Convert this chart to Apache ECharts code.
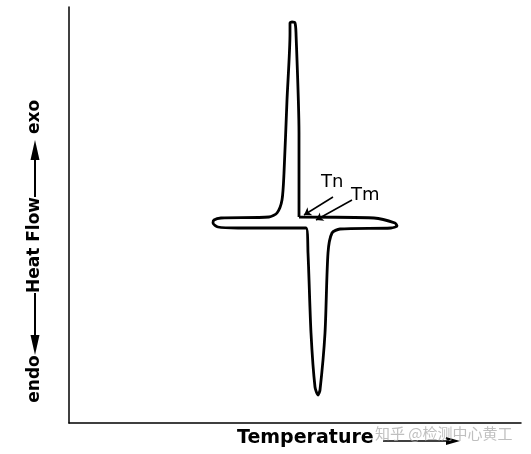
<!DOCTYPE html>
<html>
<head>
<meta charset="utf-8">
<script src="https://cdn.jsdelivr.net/npm/echarts@6/dist/echarts.min.js"></script>
</head>
<body style="margin:0">
<div id="main" style="width:531px;height:454px"></div>
<script>
// DSC loop (x: temperature, y: heat flow, arbitrary units)
var curveX = [299, 299, 296, 295, 292, 290, 290, 287, 284, 282, 277, 269, 221, 214, 213, 218, 238, 306, 308, 311, 315, 318, 320, 325, 328, 332, 340, 391, 397, 395, 374, 299];
var curveY = [217, 133, 33, 23, 22, 23, 33, 100, 173, 200, 213, 217, 218, 220, 223, 227, 228, 228, 253, 333, 387, 395, 390, 333, 253, 233, 229, 228, 226, 223, 218, 217];
var arrowTn = [[333, 197], [304, 215]];
var arrowTm = [[352, 200], [316, 220]];
var labels = [{text: 'Tn', x: 321, y: 182}, {text: 'Tm', x: 351, y: 195}];

var X0 = 69, Y0 = 423;
function px(p) { return [p[0] - X0, Y0 - p[1]]; }
var data = curveX.map(function (x, i) { return px([x, curveY[i]]); });

var chart = echarts.init(document.getElementById('main'));
var bold = {fontFamily: 'DejaVu Sans', fontWeight: 'bold', fontSize: 17, fill: '#000'};
chart.setOption({
    animation: false,
    grid: {left: X0, right: 10, top: 7, bottom: 454 - Y0},
    xAxis: {type: 'value', min: 0, max: 452, axisLine: {show: true, onZero: false, lineStyle: {color: '#000', width: 1.5}},
        axisTick: {show: false}, axisLabel: {show: false}, splitLine: {show: false}},
    yAxis: {type: 'value', min: 0, max: 416, axisLine: {show: true, onZero: false, lineStyle: {color: '#000', width: 1.5}},
        axisTick: {show: false}, axisLabel: {show: false}, splitLine: {show: false}},
    series: [{
        type: 'line', data: data, smooth: 0.25, showSymbol: false,
        lineStyle: {color: '#000', width: 2.8},
        markLine: {
            silent: true, symbol: ['none', 'arrow'], symbolSize: 7,
            lineStyle: {color: '#000', width: 1.5, type: 'solid'}, label: {show: false},
            data: [
                [{coord: px(arrowTn[0])}, {coord: px(arrowTn[1])}],
                [{coord: px(arrowTm[0])}, {coord: px(arrowTm[1])}]
            ]
        }
    }],
    graphic: labels.map(function (l) {
        return {type: 'text', x: l.x, y: l.y, style: {text: l.text, fontFamily: 'DejaVu Sans', fontSize: 18, fill: '#000', verticalAlign: 'middle'}};
    }).concat([
        {type: 'text', x: 35, y: 117, rotation: Math.PI / 2, style: Object.assign({text: 'exo', align: 'center', verticalAlign: 'middle'}, bold)},
        {type: 'text', x: 35, y: 245, rotation: Math.PI / 2, style: Object.assign({text: 'Heat Flow', align: 'center', verticalAlign: 'middle'}, bold)},
        {type: 'text', x: 35, y: 379, rotation: Math.PI / 2, style: Object.assign({text: 'endo', align: 'center', verticalAlign: 'middle'}, bold)},
        {type: 'line', shape: {x1: 35, y1: 158, x2: 35, y2: 197}, style: {stroke: '#000', lineWidth: 2}},
        {type: 'polygon', shape: {points: [[35, 140], [30.5, 160], [39.5, 160]]}, style: {fill: '#000'}},
        {type: 'line', shape: {x1: 35, y1: 293, x2: 35, y2: 337}, style: {stroke: '#000', lineWidth: 2}},
        {type: 'polygon', shape: {points: [[35, 355], [30.5, 335], [39.5, 335]]}, style: {fill: '#000'}},
        {type: 'text', x: 237, y: 438, style: {text: 'Temperature', verticalAlign: 'middle', fontFamily: 'DejaVu Sans', fontWeight: 'bold', fontSize: 19, fill: '#000'}},
        {type: 'line', shape: {x1: 383, y1: 441, x2: 448, y2: 441}, style: {stroke: '#000', lineWidth: 1.5}},
        {type: 'polygon', shape: {points: [[460, 441], [446, 437], [446, 445]]}, style: {fill: '#000'}},
        {type: 'text', x: 375, y: 433, style: {text: '知乎 @检测中心黄工', fontFamily: 'Noto Sans CJK SC', fontSize: 15, fill: 'rgba(170,170,170,0.75)', verticalAlign: 'middle'}}
    ])
});
</script>
</body>
</html>
